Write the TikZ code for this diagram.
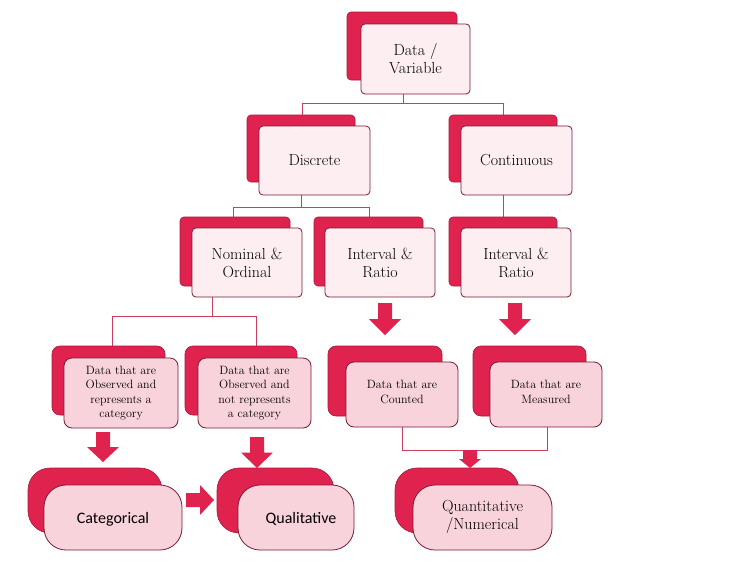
\documentclass[tikz,border=0pt]{standalone}
\usepackage{fontspec}
\newfontfamily\calib{Carlito}
\definecolor{crim}{HTML}{E0234E}
\definecolor{crimd}{HTML}{A8163A}
\definecolor{edge}{HTML}{7A1A34}
\definecolor{pinkl}{HTML}{FCEEF1}
\definecolor{pinkm}{HTML}{F8D3DB}
\definecolor{conn}{HTML}{C8405E}
\tikzset{
 backbox/.style={draw=crimd,fill=crim,rounded corners=4pt,line width=0.6pt},
 frontbox/.style={draw=edge,fill=pinkl,rounded corners=4pt,line width=0.8pt},
 frontbox2/.style={draw=edge,fill=pinkm,rounded corners=8pt,line width=0.8pt},
 backpill/.style={draw=crimd,fill=crim,rounded corners=22pt,line width=0.6pt},
 frontpill/.style={draw=edge,fill=pinkm,rounded corners=22pt,line width=0.8pt},
 lbl/.style={align=center,font=\fontsize{16}{18}\selectfont},
 slbl/.style={align=center,font=\fontsize{12}{14.5}\selectfont},
 conn/.style={draw=conn,line width=0.8pt},
 blk/.style={fill=crim,draw=none},
}
\newcommand{\darr}[4]{% x, y top, length, half head width
 \fill[blk] (#1-7,#2) -- (#1+7,#2) -- (#1+7,#2+#3*0.5) -- (#1+#4,#2+#3*0.5) -- (#1,#2+#3) -- (#1-#4,#2+#3*0.5) -- (#1-7,#2+#3*0.5) -- cycle;}
\begin{document}
\begin{tikzpicture}[x=1pt,y=-1pt]
\useasboundingbox (0,0) rectangle (729,568);
% connectors (behind)
\coordinate (dvb) at (403,94);
\draw[conn] (dvb) -- (403,103) -| (302,115);
\draw[conn] (403,103) -| (503,115);
\draw[conn] (301,195) -- (301,207) -| (233,217);
\draw[conn] (301,207) -| (369,217);
\draw[conn] (503,195) -- (503,217);
\draw[conn] (212,297) -- (212,316) -| (112,358);
\draw[conn] (212,316) -| (256,358);
\draw[conn] (402,427) -- (402,450) -| (547,427);
% Data/Variable
\draw[backbox] (347,12) rectangle (457,80);
\draw[frontbox] (361,24) rectangle (470,94);
\node[lbl] (dv) at (415.5,59) {Data /\\Variable};
% Discrete
\draw[backbox] (247,115) rectangle (355,182);
\draw[frontbox] (259,126) rectangle (370,195);
\node[lbl] (dis) at (314.5,160.5) {Discrete};
% Continuous
\draw[backbox] (449,115) rectangle (557,182);
\draw[frontbox] (461,126) rectangle (572,195);
\node[lbl] (con) at (516.5,160.5) {Continuous};
% Row 2
\draw[backbox] (180,217) rectangle (290,286);
\draw[frontbox] (192,228) rectangle (302,297);
\node[lbl] (nom) at (247,262.5) {Nominal \&\\Ordinal};
\draw[backbox] (314,217) rectangle (423,286);
\draw[frontbox] (325,228) rectangle (435,297);
\node[lbl] (ir1) at (380,262.5) {Interval \&\\Ratio};
\draw[backbox] (449,217) rectangle (557,286);
\draw[frontbox] (461,228) rectangle (571,297);
\node[lbl] (ir2) at (516,262.5) {Interval \&\\Ratio};
% Row 3
\draw[backbox,rounded corners=8pt] (52,346) rectangle (165,415);
\draw[frontbox2] (64,358) rectangle (178,428);
\node[slbl] (ob1) at (121,393) {Data that are\\Observed and\\represents a\\category};
\draw[backbox,rounded corners=8pt] (185,346) rectangle (297,415);
\draw[frontbox2] (198,358) rectangle (311,428);
\node[slbl] (ob2) at (254.5,393) {Data that are\\Observed and\\not represents\\a category};
\draw[backbox,rounded corners=8pt] (328,346) rectangle (442,416);
\draw[frontbox2] (346,362) rectangle (458,427);
\node[slbl] (cnt) at (402,392) {Data that are\\Counted};
\draw[backbox,rounded corners=8pt] (473,346) rectangle (586,416);
\draw[frontbox2] (490,362) rectangle (602,427);
\node[slbl] (mea) at (546,392) {Data that are\\Measured};
% Row 4
\draw[backpill] (28,468) rectangle (162,533);
\draw[frontpill] (44,485) rectangle (182,550);
\node[font=\calib\fontsize{16}{18}\selectfont] (cat) at (113,519) {Categorical};
\draw[backpill] (217,468) rectangle (334,533);
\draw[frontpill] (238,485) rectangle (354,550);
\node[font=\calib\fontsize{16}{18}\selectfont] (qual) at (301,519) {Qualitative};
\draw[backpill] (395,468) rectangle (519,533);
\draw[frontpill] (413,485) rectangle (552,550);
\node[lbl] (quan) at (482.5,517) {Quantitative\\/Numerical};
% block arrows
\darr{385}{303}{32}{16}
\darr{515}{303}{32}{16}
\darr{103}{432}{30}{16}
\darr{257}{437}{31}{16}
\darr{470}{450}{18}{11}
\fill[blk] (186,493) -- (200,493) -- (200,485) -- (214,500) -- (200,515) -- (200,507) -- (186,507) -- cycle;
\end{tikzpicture}
\end{document}
